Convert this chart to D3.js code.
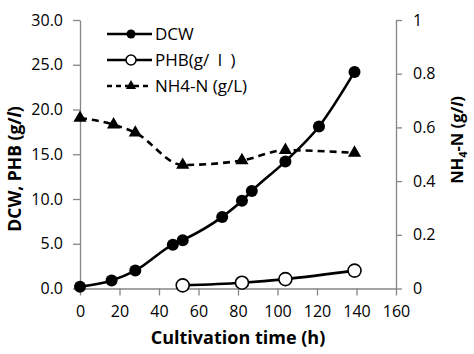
<!DOCTYPE html>
<html>
<head>
<meta charset="utf-8">
<script src="https://cdn.jsdelivr.net/npm/d3@7"></script>
<style>
  body { margin: 0; background: #fff; }
  svg text { font-family: "Open Sans", sans-serif; fill: #000; }
</style>
</head>
<body>
<div id="chart"></div>
<script>
// data
const dcwTime = [0, 16, 28, 47, 52, 72, 82, 87, 104, 121, 139];
const dcwVals = [0.2, 0.9, 2.0, 4.9, 5.4, 8.0, 9.8, 10.9, 14.2, 18.1, 24.2];

const phbTime = [52, 82, 104, 139];
const phbVals = [0.35, 0.65, 1.05, 2.0];

const nhTime = [0, 17, 28, 52, 82, 104, 139];
const nhVals = [0.635, 0.61, 0.58, 0.46, 0.477, 0.515, 0.505];

const xTicks = [0, 20, 40, 60, 80, 100, 120, 140, 160];
const yLeftTicks = [0, 5, 10, 15, 20, 25, 30];
const yRightTicks = [0, 0.2, 0.4, 0.6, 0.8, 1];

const W = 474, H = 354;
const svg = d3.select("#chart").append("svg")
    .attr("width", W)
    .attr("height", H);

const x = d3.scaleLinear().domain([0, 160]).range([80, 396]);
const yL = d3.scaleLinear().domain([0, 30]).range([288.5, 20]);
const yR = d3.scaleLinear().domain([0, 1]).range([288.5, 20]);

const axisColor = "#868686";

// axes
const gx = svg.append("g")
    .attr("transform", `translate(0,${yL(0)})`)
    .call(d3.axisBottom(x).tickValues(xTicks).tickSize(7).tickPadding(10).tickSizeOuter(0));

const gyl = svg.append("g")
    .attr("transform", `translate(${x(0)},0)`)
    .call(d3.axisLeft(yL).tickValues(yLeftTicks).tickFormat(d3.format(".1f")).tickSize(7).tickPadding(10).tickSizeOuter(0));

const gyr = svg.append("g")
    .attr("transform", `translate(${x(160)},0)`)
    .call(d3.axisRight(yR).tickValues(yRightTicks).tickFormat(d => d === 0 || d === 1 ? d : d3.format(".1f")(d)).tickSize(6).tickPadding(11).tickSizeOuter(0));

[gx, gyl, gyr].forEach(g => {
    g.selectAll("path, line").attr("stroke", axisColor).attr("stroke-width", 1.3);
    g.selectAll("text").style("font-size", "16px").style("font-family", "Open Sans, sans-serif").attr("fill", "#000");
});

// lines
const dcw = dcwTime.map((t, i) => [t, dcwVals[i]]);
const phb = phbTime.map((t, i) => [t, phbVals[i]]);
const nh = nhTime.map((t, i) => [t, nhVals[i]]);

const lineL = d3.line().x(d => x(d[0])).y(d => yL(d[1])).curve(d3.curveMonotoneX);
const lineR = d3.line().x(d => x(d[0])).y(d => yR(d[1])).curve(d3.curveMonotoneX);

svg.append("path").datum(nh)
    .attr("d", lineR)
    .attr("fill", "none")
    .attr("stroke", "#000")
    .attr("stroke-width", 2.6)
    .attr("stroke-dasharray", "7,5");

svg.append("path").datum(dcw)
    .attr("d", lineL)
    .attr("fill", "none")
    .attr("stroke", "#000")
    .attr("stroke-width", 2.6);

svg.append("path").datum(phb)
    .attr("d", lineL)
    .attr("fill", "none")
    .attr("stroke", "#000")
    .attr("stroke-width", 2.6);

// markers
const tri = d3.symbol().type(d3.symbolTriangle).size(75);

svg.selectAll(".nh").data(nh).enter().append("path")
    .attr("transform", d => `translate(${x(d[0])},${yR(d[1])})`)
    .attr("d", tri)
    .attr("fill", "#000");

svg.selectAll(".dcw").data(dcw).enter().append("circle")
    .attr("cx", d => x(d[0]))
    .attr("cy", d => yL(d[1]))
    .attr("r", 6)
    .attr("fill", "#000");

svg.selectAll(".phb").data(phb).enter().append("circle")
    .attr("cx", d => x(d[0]))
    .attr("cy", d => yL(d[1]))
    .attr("r", 6.5)
    .attr("fill", "#fff")
    .attr("stroke", "#000")
    .attr("stroke-width", 1.6);

// axis titles
svg.append("text")
    .attr("x", (x(0) + x(160)) / 2)
    .attr("y", 344)
    .attr("text-anchor", "middle")
    .style("font-size", "18px")
    .style("font-weight", "bold")
    .text("Cultivation time (h)");

const leftTitle = svg.append("text")
    .attr("transform", "translate(21,169) rotate(-90)")
    .attr("text-anchor", "middle")
    .style("font-size", "17.5px")
    .style("font-weight", "bold");
leftTitle.append("tspan").text("DCW, PHB (g/");
leftTitle.append("tspan").style("font-style", "italic").text("l");
leftTitle.append("tspan").text(")");

const rightTitle = svg.append("text")
    .attr("transform", "translate(463,140) rotate(-90)")
    .attr("text-anchor", "middle")
    .style("font-size", "16.5px")
    .style("font-weight", "bold");
rightTitle.append("tspan").text("NH");
rightTitle.append("tspan").attr("dy", 4).style("font-size", "11px").text("4");
rightTitle.append("tspan").attr("dy", -4).text("-N (g/");
rightTitle.append("tspan").style("font-style", "italic").text("l");
rightTitle.append("tspan").text(")");

// legend
const legendItems = [
    { label: "DCW", kind: "dcw" },
    { label: "PHB(g/\u2002l\u2002)", kind: "phb" },
    { label: "NH4-N (g/L)", kind: "nh" }
];

const legend = svg.append("g").attr("transform", "translate(107,34)");
legendItems.forEach((item, i) => {
    const row = legend.append("g").attr("transform", `translate(0,${i * 26})`);
    row.append("line")
        .attr("x1", 0).attr("x2", 45)
        .attr("stroke", "#000")
        .attr("stroke-width", 2.6)
        .attr("stroke-dasharray", item.kind === "nh" ? "5,4" : null);
    if (item.kind === "dcw") {
        row.append("circle").attr("cx", 24).attr("r", 4.5).attr("fill", "#000");
    } else if (item.kind === "phb") {
        row.append("circle").attr("cx", 24).attr("r", 5).attr("fill", "#fff").attr("stroke", "#000").attr("stroke-width", 1.5);
    } else {
        row.append("path").attr("transform", "translate(24,0)").attr("d", d3.symbol().type(d3.symbolTriangle).size(45)).attr("fill", "#000");
    }
    row.append("text")
        .attr("x", 48)
        .attr("dy", "0.35em")
        .style("font-size", "17px")
        .text(item.label);
});
</script>
</body>
</html>
